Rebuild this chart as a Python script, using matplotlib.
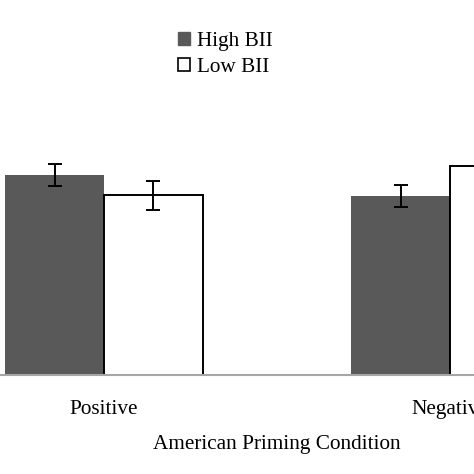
import matplotlib.pyplot as plt
import numpy as np
from matplotlib.patches import Patch

# Data (arbitrary units)
conditions = ['Positive', 'Negative']
high_bii = [2.00, 1.79]
low_bii = [1.80, 2.09]
high_err = [0.11, 0.11]
low_err = [0.145, 0.12]

plt.rcParams['font.family'] = ['Liberation Serif', 'DejaVu Serif']

fig = plt.figure(figsize=(4.74, 4.74), dpi=100)
ax = fig.add_axes([0, 1 - 375 / 474, 1, 375 / 474])

x = np.arange(len(conditions))
w = 0.286

ax.bar(x - w / 2, high_bii, width=w, color='#595959', edgecolor='none')
ax.bar(x + w / 2, low_bii, width=w, color='white', edgecolor='black', linewidth=1.4)
ax.errorbar(x - w / 2, high_bii, yerr=high_err, fmt='none', ecolor='black',
            elinewidth=1.4, capsize=5, capthick=1.4)
ax.errorbar(x + w / 2, low_bii, yerr=low_err, fmt='none', ecolor='black',
            elinewidth=1.4, capsize=5, capthick=1.4)

ax.set_xlim(-104 / 346, 370 / 346)
ax.set_ylim(0, 3.75)

for s in ['top', 'left', 'right']:
    ax.spines[s].set_visible(False)
ax.spines['bottom'].set_color('#a6a6a6')
ax.spines['bottom'].set_linewidth(1.5)
ax.set_yticks([])
ax.set_xticks(x)
ax.set_xticklabels(conditions, fontsize=15.3)
ax.tick_params(axis='x', length=0, pad=18)

ax.set_xlabel('American Priming Condition', fontsize=15.3)
ax.xaxis.set_label_coords(277 / 474, -0.16)

handles = [Patch(facecolor='#595959', edgecolor='#595959'),
           Patch(facecolor='white', edgecolor='black', linewidth=1.2)]
fig.legend(handles, ['High BII', 'Low BII'], loc='upper left',
           bbox_to_anchor=(178 / 474, 1 - 32 / 474), frameon=False, fontsize=15.3,
           handlelength=0.55, handleheight=0.55, handletextpad=0.35,
           labelspacing=0.33, borderpad=0, borderaxespad=0)

fig.savefig('out.png', dpi=100)
